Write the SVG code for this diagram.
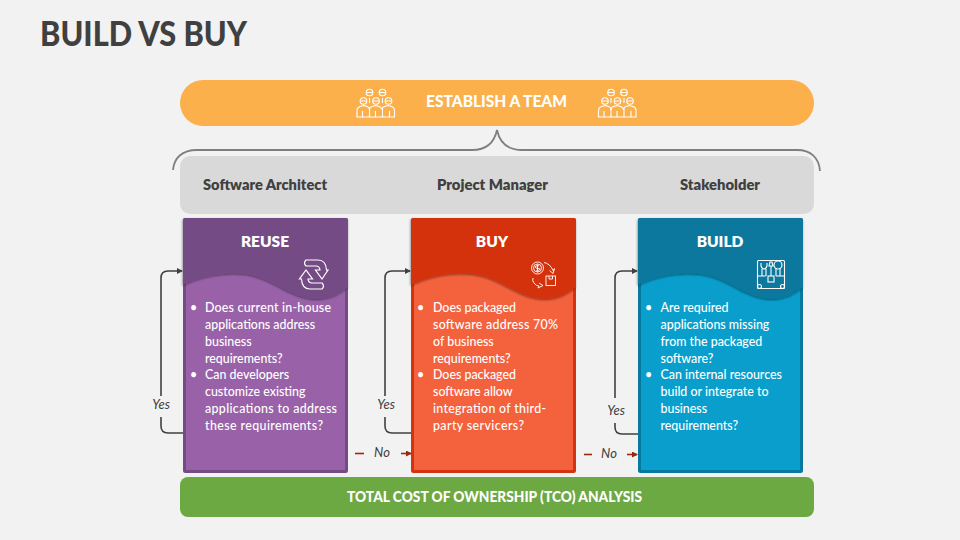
<svg xmlns="http://www.w3.org/2000/svg" width="960" height="540" viewBox="0 0 960 540">
<style>
text{font-family:"Lato","Open Sans","Liberation Sans",sans-serif}
.title{font-size:34px;font-weight:900;fill:#404040}
.banner{font-size:16px;font-weight:900;fill:#fff}
.role{font-size:14px;font-weight:800;fill:#404040}
.head{font-size:15.500px;font-weight:800;fill:#fff;text-anchor:middle}
.body{font-size:12.4px;font-weight:500;fill:#fff}
.lab{font-size:13px;font-style:italic;fill:#404040;text-anchor:middle}
.loop{fill:none;stroke:#404040;stroke-width:1.6}
.no{fill:none;stroke:#992a10;stroke-width:1.6}
.ic{fill:none;stroke:#fff;stroke-width:1.1}
</style>
<defs>
<marker id="ah" markerWidth="7" markerHeight="7" refX="5" refY="3" orient="auto" markerUnits="userSpaceOnUse"><path d="M0 0L6 3L0 6Z" fill="#404040"/></marker>
<marker id="ar" markerWidth="7" markerHeight="7" refX="5" refY="3" orient="auto" markerUnits="userSpaceOnUse"><path d="M0 0L6 3L0 6Z" fill="#992a10"/></marker>
<filter id="sh" x="-5%" y="-10%" width="110%" height="125%"><feDropShadow dx="-.5" dy="1" stdDeviation="1.200" flood-color="#000" flood-opacity=".45"/></filter>
<g id="team" class="ic">
<circle cx="13" cy="3.500" r="3.300"/><circle cx="26" cy="3.500" r="3.300"/><path d="M10 3.500h6M23 3.500h6"/>
<circle cx="7" cy="12" r="3.300"/><circle cx="19.500" cy="12" r="3.300"/><circle cx="32" cy="12" r="3.300"/><path d="M4 12h6M16.500 12h6M29 12h6"/>
<path d="M13 9v5M26 9v5"/>
<path d="M0.500 28v-6.500q0-3 3-4l3.500-1 3.500 1q2 .7 2.500 2.500 .5-1.800 2.500-2.500l3.500-1 3.500 1q2 .7 3 2.500 .5-1.800 2.500-2.500l3.500-1 3.500 1q3 1 3 4v6.500z"/>
<path d="M6 22v6M13 19v9M19 22v6M26 19v9M33 22v6"/>
</g>
</defs>
<rect width="960" height="540" fill="#f2f2f2"/>
<text class="title" x="40" y="46" textLength="207" lengthAdjust="spacingAndGlyphs">BUILD VS BUY</text>

<g id="establish-team">
<rect x="180" y="80" width="634" height="46" rx="23" fill="#fbb04c"/>
<text class="banner" x="426" y="107" textLength="141" lengthAdjust="spacingAndGlyphs">ESTABLISH A TEAM</text>
<use href="#team" x="356.500" y="89"/>
<use href="#team" x="598" y="89"/>
</g>

<g id="roles">
<rect x="180" y="156" width="634" height="58" rx="10" fill="#d9d9d9"/>
<text class="role" x="203" y="190" textLength="124" lengthAdjust="spacingAndGlyphs">Software Architect</text>
<text class="role" x="437" y="190" textLength="111" lengthAdjust="spacingAndGlyphs">Project Manager</text>
<text class="role" x="680" y="190" textLength="80" lengthAdjust="spacingAndGlyphs">Stakeholder</text>
</g>

<g id="card-reuse">
<rect x="184.500" y="219.500" width="162" height="252" rx="1" fill="#9962a8" stroke="#744b85" stroke-width="3"/>
<path filter="url(#sh)" d="M183 285C205 275 225 272 245 274C275 278 290 299 318 299C330 299 340 294 348 287V220Q348 218 346 218H185Q183 218 183 220Z" fill="#744b85"/>
<text class="head" x="265" y="247">REUSE</text>
<g class="ic" style="stroke-width:1.200">
<path d="M306 260H318Q326 260 326.500 270H328L322 279L315.500 270H320Q319.500 266 316 266H306Q303 263 306 260Z"/>
<path d="M322 289H310Q302 289 301.500 279H299.500L306 270L312.500 279H308Q308.500 283 312 283H322Q325 286 322 289Z"/>
</g>
<text class="body"><tspan x="190" y="312">•</tspan><tspan x="205" y="312" textLength="126">Does current in-house</tspan><tspan x="205" y="329">applications address</tspan><tspan x="205" y="346">business</tspan><tspan x="205" y="363">requirements?</tspan><tspan x="190" y="379">•</tspan><tspan x="205" y="379">Can developers</tspan><tspan x="205" y="396">customize existing</tspan><tspan x="205" y="413" textLength="132">applications to address</tspan><tspan x="205" y="430" textLength="118">these requirements?</tspan></text>
</g>

<g id="card-buy">
<rect x="412.500" y="219.500" width="162" height="252" rx="1" fill="#f4613d" stroke="#d4330f" stroke-width="3"/>
<path filter="url(#sh)" d="M411 285C433 275 453 272 473 274C503 278 518 299 546 299C558 299 568 294 576 287V220Q576 218 574 218H413Q411 218 411 220Z" fill="#d4330f"/>
<text class="head" x="492" y="247">BUY</text>
<g class="ic" style="stroke-width:.9">
<circle cx="537.500" cy="268" r="6"/><circle cx="537.500" cy="268" r="4"/>
<path d="M539 266q-1.500-1-3 0t0 2 3 0.500 0 2-3 0M537.500 264.500v7"/>
<rect x="546" y="276" width="9.500" height="9.500"/><path d="M549 276v3h3.500v-3"/>
<path d="M544 262.500q6 1 9 8l1.500-2-1.500 5-3.500-3"/><path d="M533 278q-1 3 1 5q2 3 5 3l-1 2 5-2.500-4-2.500"/>
</g>
<text class="body"><tspan x="417" y="312">•</tspan><tspan x="433" y="312">Does packaged</tspan><tspan x="433" y="329" textLength="125">software address 70%</tspan><tspan x="433" y="346">of business</tspan><tspan x="433" y="363">requirements?</tspan><tspan x="417" y="379">•</tspan><tspan x="433" y="379">Does packaged</tspan><tspan x="433" y="396">software allow</tspan><tspan x="433" y="413" textLength="113">integration of third-</tspan><tspan x="433" y="430" textLength="91">party servicers?</tspan></text>
</g>

<g id="card-build">
<rect x="639.500" y="219.500" width="162" height="252" rx="1" fill="#0a9ecc" stroke="#07789e" stroke-width="3"/>
<path filter="url(#sh)" d="M638 285C660 275 680 272 700 274C730 278 745 299 773 299C785 299 795 294 803 287V220Q803 218 801 218H640Q638 218 638 220Z" fill="#07789e"/>
<text class="head" x="720" y="247">BUILD</text>
<g class="ic">
<rect x="757.500" y="260.500" width="27" height="28" rx="1"/>
<path d="M757.500 276h8M776 276h8.500M762 269v7M766 269v7"/>
<circle cx="759.500" cy="286.500" r="2"/><circle cx="782.500" cy="286.500" r="2"/>
<rect x="768" y="276" width="6" height="6"/>
<path d="M761 263v3q1 3 3 3t3-3v-3M771 276v-10M769 266h4l-1-4h-2z"/>
<circle cx="778" cy="265" r="4"/><path d="M776 268v8M780 268v8"/>
</g>
<text class="body"><tspan x="645" y="312">•</tspan><tspan x="660.500" y="312">Are required</tspan><tspan x="660.500" y="329">applications missing</tspan><tspan x="660.500" y="346">from the packaged</tspan><tspan x="660.500" y="363">software?</tspan><tspan x="645" y="379">•</tspan><tspan x="660.500" y="379">Can internal resources</tspan><tspan x="660.500" y="396">build or integrate to</tspan><tspan x="660.500" y="413">business</tspan><tspan x="660.500" y="430">requirements?</tspan></text>
</g>

<g id="tco">
<rect x="180" y="477" width="634" height="40" rx="8" fill="#6da942"/>
<text class="banner" x="347" y="502" textLength="295" lengthAdjust="spacingAndGlyphs" style="font-size:14.500px">TOTAL COST OF OWNERSHIP (TCO) ANALYSIS</text>
</g>

<g id="connectors">
<path d="M173 170C174 158 182 150 197 150H472C486 150 494 144 497 130C500 144 508 150 522 150H797C811 150 819 158 820 171" fill="none" stroke="#7f7f7f" stroke-width="1.800"/>
<path class="loop" d="M161 396V278Q161 271 168 271H182" marker-end="url(#ah)"/>
<path class="loop" d="M161 417V426Q161 433 168 433H183"/>
<path class="loop" d="M385 396V278Q385 271 392 271H410" marker-end="url(#ah)"/>
<path class="loop" d="M385 417V426Q385 433 392 433H411"/>
<path class="loop" d="M615 398V278Q615 271 622 271H637" marker-end="url(#ah)"/>
<path class="loop" d="M615 423V427Q615 434 622 434H638"/>
<path class="no" d="M355 453.500H364"/><path class="no" d="M401 453.500H411" marker-end="url(#ar)"/>
<path class="no" d="M584 454.500H592"/><path class="no" d="M627 454.500H637" marker-end="url(#ar)"/>
<text class="lab" x="161" y="409">Yes</text>
<text class="lab" x="386" y="409">Yes</text>
<text class="lab" x="616" y="415">Yes</text>
<text class="lab" x="382" y="457">No</text>
<text class="lab" x="609" y="458">No</text>
</g>
</svg>
